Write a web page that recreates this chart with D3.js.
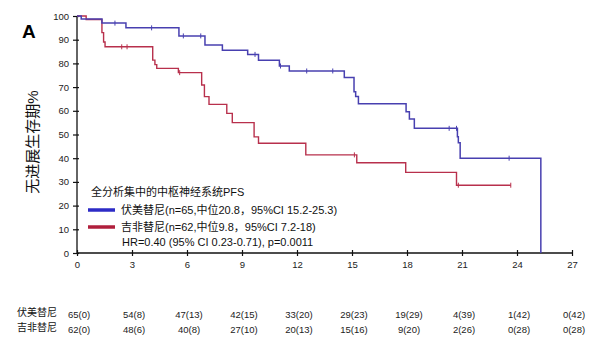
<!DOCTYPE html>
<html>
<head>
<meta charset="utf-8">
<script src="https://cdn.jsdelivr.net/npm/d3@7"></script>
<style>
  html, body { margin: 0; padding: 0; background: #fff; }
  svg { display: block; font-family: "Liberation Sans", Arial, "Noto Sans CJK SC", sans-serif; }
</style>
</head>
<body>
<svg id="chart" width="600" height="349"></svg>
<script>
// Kaplan–Meier CNS PFS curves: [month, survival %] after each step
const furmonibSteps = [
  [0, 100], [0.23, 98.7], [1.36, 97], [2.67, 95], [5.56, 91.6], [6.98, 87.8],
  [7.93, 85.5], [9.31, 83.8], [9.9, 81.3], [11.04, 78.9], [11.58, 76.8],
  [14.58, 74.1], [15.11, 68], [15.2, 66], [15.35, 63], [17.95, 59.6],
  [18.13, 56.5], [18.4, 52.6], [20.75, 49], [20.8, 46.5], [20.9, 40], [25.3, 40], [25.3, 0]
];
const gefitinibSteps = [
  [0, 100], [0.5, 98.5], [1.36, 93], [1.45, 89], [1.53, 87], [4.13, 81.4],
  [4.25, 79.5], [4.35, 77.9], [5.53, 76.1], [6.8, 70.9], [6.95, 66], [7.2, 62.7],
  [8.17, 58.9], [8.47, 55], [9.66, 49], [9.9, 46.3], [12.48, 41.4],
  [15.26, 38.1], [17.93, 34], [20.7, 28.6], [23.66, 28.6]
];
// Censoring marks [month, survival %]
const furmonibCensored = [
  [2.07, 97], [4.07, 95], [5.8, 91.6], [6.75, 91.6], [9.71, 83.8], [11.1, 78.9],
  [12.53, 76.8], [13.95, 76.8], [20.3, 52.6], [20.7, 52.6], [23.57, 40]
];
const gefitinibCensored = [
  [2.44, 87], [2.73, 87], [5.6, 76.1], [15.13, 41.4], [20.8, 28.6], [23.66, 28.6]
];

// Axis ticks
const xTicks = [0, 3, 6, 9, 12, 15, 18, 21, 24, 27];
const yTicks = [0, 10, 20, 30, 40, 50, 60, 70, 80, 90, 100];

// Numbers at risk (cumulative events) at each x tick
const furmonibAtRisk = [65, 54, 47, 42, 33, 29, 19, 4, 1, 0];
const furmonibEvents = [0, 8, 13, 15, 20, 23, 29, 39, 42, 42];
const gefitinibAtRisk = [62, 48, 40, 27, 20, 15, 9, 2, 0, 0];
const gefitinibEvents = [0, 6, 8, 10, 13, 16, 20, 26, 28, 28];

const groupNames = ["伏美替尼", "吉非替尼"];
const legendTitle = "全分析集中的中枢神经系统PFS";
const legendLabels = [
  "伏美替尼(n=65,中位20.8，95%CI 15.2-25.3)",
  "吉非替尼(n=62,中位9.8，95%CI 7.2-18)"
];
const hrText = "HR=0.40 (95% CI 0.23-0.71), p=0.0011";

const blueLine = "#4840b0", redLine = "#b8304c";
const blueKey = "#2d2bc6", redKey = "#b01f3c";

const svg = d3.select("#chart");
const x = d3.scaleLinear().domain([0, 27]).range([77, 572]);
const y = d3.scaleLinear().domain([0, 100]).range([253, 16]);

// Panel letter
svg.append("text").attr("x", 22).attr("y", 38)
  .attr("font-size", 19).attr("font-weight", "bold").attr("fill", "#000").text("A");

// Y axis title
svg.append("text")
  .attr("transform", `translate(38,142) rotate(-90)`)
  .attr("text-anchor", "middle").attr("font-size", 15).attr("fill", "#111")
  .text("无进展生存期%");

// Axes with ticks crossing the axis line
const yAxis = svg.append("g").attr("transform", "translate(77,0)")
  .call(d3.axisLeft(y).tickValues(yTicks).tickSize(4).tickPadding(4));
yAxis.selectAll(".tick line").attr("x2", -4).attr("x1", 2);
const xAxis = svg.append("g").attr("transform", "translate(0,253)")
  .call(d3.axisBottom(x).tickValues(xTicks).tickSize(3).tickPadding(5));
xAxis.selectAll(".tick line").attr("y1", -3).attr("y2", 3);
[yAxis, xAxis].forEach(g => {
  g.select(".domain").attr("stroke", "#111").attr("stroke-width", 1.3);
  g.selectAll(".tick line").attr("stroke", "#111").attr("stroke-width", 1.2);
  g.selectAll(".tick text").attr("font-size", 9.5).attr("fill", "#222")
    .attr("font-family", "'Liberation Sans', Arial, sans-serif");
});
yAxis.select(".domain").attr("d", "M0,253V16");
xAxis.select(".domain").attr("d", "M77,0H572");

// Survival curves
const line = d3.line().x(d => x(d[0])).y(d => y(d[1])).curve(d3.curveStepAfter);
svg.append("path").datum(gefitinibSteps).attr("d", line)
  .attr("fill", "none").attr("stroke", redLine).attr("stroke-width", 1.4);
svg.append("path").datum(furmonibSteps).attr("d", line)
  .attr("fill", "none").attr("stroke", blueLine).attr("stroke-width", 1.5);

function censor(data, color) {
  svg.append("g").selectAll("line").data(data).join("line")
    .attr("x1", d => x(d[0])).attr("x2", d => x(d[0]))
    .attr("y1", d => y(d[1]) - 2.5).attr("y2", d => y(d[1]) + 2.5)
    .attr("stroke", color).attr("stroke-width", 1);
}
censor(gefitinibCensored, redLine);
censor(furmonibCensored, blueLine);

// Legend
const lg = svg.append("g").attr("font-size", 11).attr("fill", "#111");
lg.append("text").attr("x", 91).attr("y", 196).text(legendTitle);
[[blueKey, 210], [redKey, 227]].forEach(([c, yy], i) => {
  lg.append("line").attr("x1", 88).attr("x2", 115).attr("y1", yy).attr("y2", yy)
    .attr("stroke", c).attr("stroke-width", 3.5);
  lg.append("text").attr("x", 121).attr("y", yy + 4).text(legendLabels[i]);
});
lg.append("text").attr("x", 122).attr("y", 246).text(hrText);

// Numbers at risk table
const rows = [
  [groupNames[0], furmonibAtRisk, furmonibEvents, 317],
  [groupNames[1], gefitinibAtRisk, gefitinibEvents, 332]
];
rows.forEach(([name, risk, ev, yy]) => {
  svg.append("text").attr("x", 17).attr("y", yy - 1).attr("font-size", 10)
    .attr("fill", "#111").text(name);
  svg.append("g").selectAll("text").data(xTicks).join("text")
    .attr("x", (t) => x(t) + 2).attr("y", yy + 1).attr("text-anchor", "middle")
    .attr("font-size", 9.5).attr("fill", "#222")
    .text((t, i) => `${risk[i]}(${ev[i]})`);
});
</script>
</body>
</html>
